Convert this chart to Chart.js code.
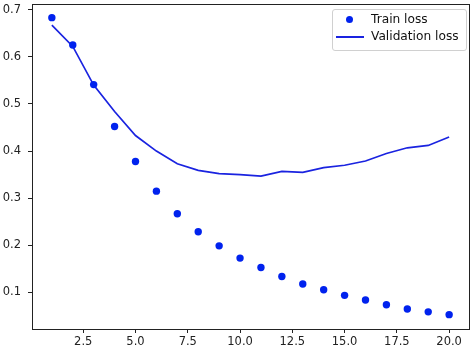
<!DOCTYPE html>
<html>
<head>
<meta charset="utf-8">
<script src="https://cdn.jsdelivr.net/npm/chart.js@4/dist/chart.umd.min.js"></script>
<style>
  html, body { margin: 0; padding: 0; background: #fff; }
  #wrap { position: relative; width: 474px; height: 350px; }
  #legend {
    position: absolute; left: 332px; top: 9px; width: 133px; height: 40px;
    border: 1px solid #d0d0d0; border-radius: 3px; background: rgba(255,255,255,0.8);
    font-family: "DejaVu Sans", sans-serif; font-size: 12.2px; color: #111;
  }
  .row { position: absolute; left: 0; height: 15px; line-height: 15px; }
  .dot { position: absolute; left: 13px; top: 4px; width: 7px; height: 7px; border-radius: 50%; background: #0022ee; }
  .line { position: absolute; left: 3px; top: 7px; width: 28px; height: 2px; background: #1a23e0; }
  .txt { position: absolute; left: 38px; top: 0; white-space: nowrap; }
</style>
</head>
<body>
<div id="wrap">
  <canvas id="canvas" width="474" height="350"></canvas>
  <div id="legend">
    <div class="row" style="top:2px"><span class="dot"></span><span class="txt">Train loss</span></div>
    <div class="row" style="top:19px"><span class="line"></span><span class="txt">Validation loss</span></div>
  </div>
</div>
<script>
const epochs = [1, 2, 3, 4, 5, 6, 7, 8, 9, 10, 11, 12, 13, 14, 15, 16, 17, 18, 19, 20];
const trainLoss = [0.683, 0.625, 0.541, 0.452, 0.378, 0.315, 0.267, 0.229, 0.199, 0.173,
                   0.153, 0.134, 0.118, 0.106, 0.094, 0.084, 0.074, 0.065, 0.059, 0.053];
const valLoss = [0.667, 0.622, 0.540, 0.484, 0.433, 0.400, 0.373, 0.359, 0.352, 0.350,
                 0.347, 0.357, 0.355, 0.365, 0.370, 0.379, 0.395, 0.407, 0.412, 0.430];
const xTicks = [2.5, 5.0, 7.5, 10.0, 12.5, 15.0, 17.5, 20.0];
const yTicks = [0.1, 0.2, 0.3, 0.4, 0.5, 0.6, 0.7];

// box around the plot area, like a matplotlib axes frame
const frame = {
  id: 'frame',
  afterDraw(chart) {
    const a = chart.chartArea, ctx = chart.ctx;
    ctx.save();
    ctx.strokeStyle = '#222';
    ctx.lineWidth = 1;
    ctx.strokeRect(Math.round(a.left) + 0.5, Math.round(a.top) + 0.5,
                   Math.round(a.right - a.left), Math.round(a.bottom - a.top));
    ctx.restore();
  }
};

const tickFont = { family: 'DejaVu Sans', size: 11.5 };

const data = {
  datasets: [{
    label: 'Train loss',
    data: epochs.map((e, i) => ({ x: e, y: trainLoss[i] })),
    showLine: false,
    pointRadius: 3.7,
    pointBackgroundColor: '#0022ee',
    pointBorderWidth: 0,
    order: 1
  }, {
    label: 'Validation loss',
    data: epochs.map((e, i) => ({ x: e, y: valLoss[i] })),
    showLine: true,
    borderColor: '#1a23e0',
    borderWidth: 1.7,
    pointRadius: 0,
    tension: 0,
    order: 2
  }]
};

const config = {
  type: 'scatter',
  data: data,
  plugins: [frame],
  options: {
    responsive: false,
    animation: false,
    layout: { padding: { top: 3, right: 5, left: 0, bottom: 0 } },
    plugins: { legend: { display: false }, tooltip: { enabled: false } },
    scales: {
      x: {
        type: 'linear',
        min: 0.05,
        max: 20.95,
        afterBuildTicks: s => { s.ticks = xTicks.map(v => ({ value: v })); },
        afterFit: s => { s.height = 21; s.paddingLeft = 0; s.paddingRight = 0; },
        grid: { drawOnChartArea: false, tickLength: 4, tickColor: '#222' },
        border: { display: false },
        ticks: { color: '#222', font: tickFont, padding: 2, maxRotation: 0,
                 callback: v => v.toFixed(1) }
      },
      y: {
        min: 0.0226,
        max: 0.712,
        afterBuildTicks: s => { s.ticks = yTicks.map(v => ({ value: v })); },
        afterFit: s => { s.width = 32; s.paddingTop = 0; s.paddingBottom = 0; },
        grid: { drawOnChartArea: false, tickLength: 4, tickColor: '#222' },
        border: { display: false },
        ticks: { color: '#222', font: tickFont, padding: 7,
                 callback: v => v.toFixed(1) }
      }
    }
  }
};

window.onload = function() {
  new Chart(document.getElementById('canvas'), config);
};
</script>
</body>
</html>
